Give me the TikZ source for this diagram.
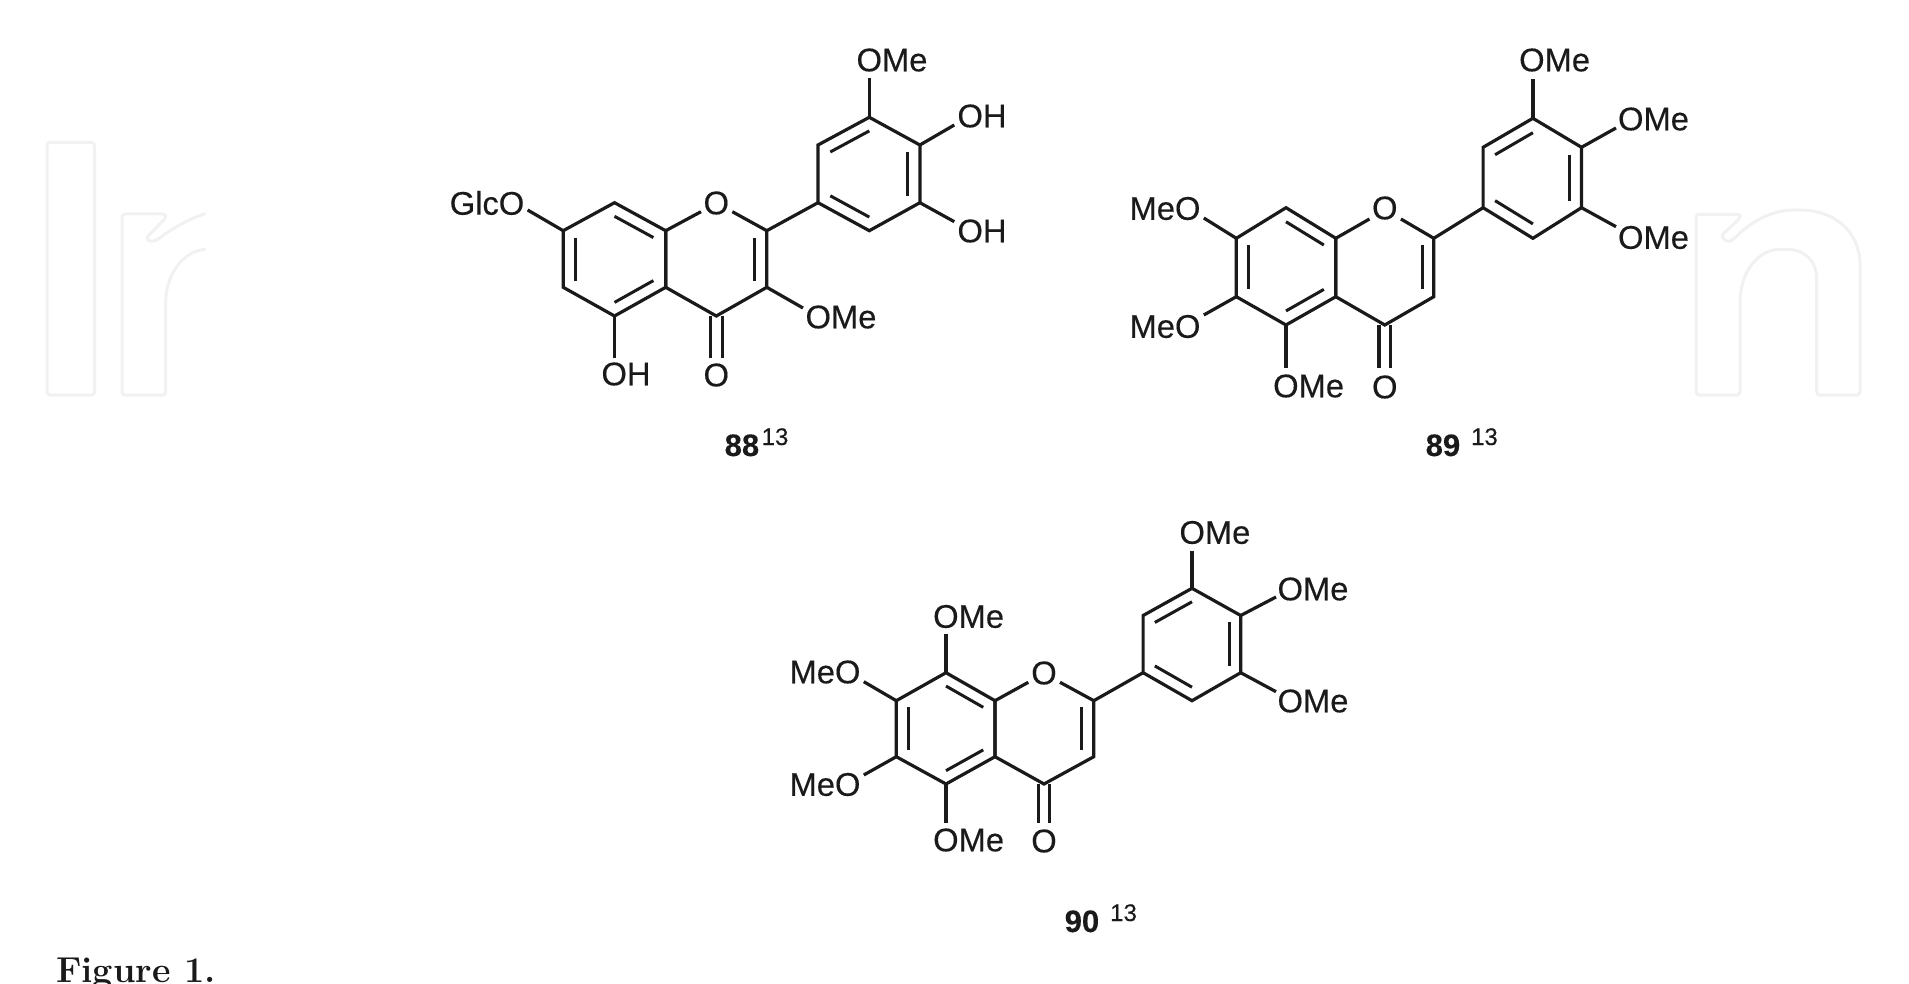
\documentclass[tikz,border=0pt]{standalone}
\usepackage{fontspec}
\newfontfamily\chem{Liberation Sans}[FakeBold=0.35]
\newfontfamily\chembold{Liberation Sans Bold}[FakeBold=0.25]
\newfontfamily\chemsup{Liberation Sans}[FakeBold=0.2]
\usetikzlibrary{calc}
\definecolor{ink}{HTML}{1A1A1A}
\definecolor{wm}{HTML}{F1F1F1}
\tikzset{
  bond/.style={draw=ink,line width=3.2pt,line join=miter,line cap=butt},
  inner/.style={draw=ink,line width=3pt,line cap=butt},
  atom/.style={inner sep=0pt,outer sep=0pt,text=ink,font=\chem\fontsize{32.7}{36}\selectfont},
  cpd/.style={inner sep=0pt,outer sep=0pt,text=ink,anchor=base west,font=\chembold\fontsize{31}{34}\selectfont},
  ghost/.style={draw=wm,line width=3pt,line join=round,rounded corners=3pt}
}
\newcommand{\Frame}[8]{%
  \def\xa{#1}\def\xb{#2}\def\xc{#3}\def\xd{#4}\def\xe{#5}\def\xf{#6}\def\xg{#7}\def\xh{#8}}
\newcommand{\Skel}[6]{%
  \coordinate (c7) at (\xa,#4); \coordinate (c8) at (\xb,#3);
  \coordinate (c8a) at (\xc,#4); \coordinate (c4a) at (\xc,#5);
  \coordinate (c5) at (\xb,#6); \coordinate (c6) at (\xa,#5);
  \coordinate (o1) at (\xd,#3); \coordinate (c2) at (\xe,#4);
  \coordinate (c3) at (\xe,#5); \coordinate (c4) at (\xd,#6);
  \coordinate (b1) at (\xf,#3); \coordinate (b2) at (\xf,#2);
  \coordinate (b3) at (\xg,#1); \coordinate (b4) at (\xh,#2);
  \coordinate (b5) at (\xh,#3); \coordinate (b6) at (\xg,#4);
  \coordinate (ra) at ($(c8)!.5!(c5)$);
  \coordinate (rc) at ($(o1)!.5!(c4)$);
  \coordinate (rb) at ($(b3)!.5!(b6)$);
  \draw[bond] (c7)--(c8)--(c8a)--(c4a)--(c5)--(c6)--cycle;
  \draw[bond] (b1)--(b2)--(b3)--(b4)--(b5)--(b6)--cycle;
  \draw[bond] (c8a)--(c4a)--(c4)--(c3)--(c2)--(b1);
  \draw[inner] ($(c7)!.24!(ra)$)--($(c6)!.24!(ra)$);
  \draw[inner] ($(c8)!.24!(ra)$)--($(c8a)!.24!(ra)$);
  \draw[inner] ($(c5)!.24!(ra)$)--($(c4a)!.24!(ra)$);
  \draw[inner] ($(c2)!.24!(rc)$)--($(c3)!.24!(rc)$);
  \draw[inner] ($(b1)!.24!(rb)$)--($(b6)!.24!(rb)$);
  \draw[inner] ($(b2)!.24!(rb)$)--($(b3)!.24!(rb)$);
  \draw[inner] ($(b4)!.24!(rb)$)--($(b5)!.24!(rb)$);
}
\newcommand{\Sub}[3]{\coordinate (#2) at (#3); \draw[bond] (#1)--(#2);}
\newcommand{\Carbonyl}[1]{%
  \coordinate (oe) at (\xd,#1);
  \draw[bond] ([xshift=-5.8pt]c4)--([xshift=-5.8pt]oe);
  \draw[bond] ([xshift=5.8pt]c4)--([xshift=5.8pt]oe);}
\newcommand{\Sup}{\raisebox{11pt}{\chemsup\fontsize{24}{26}\selectfont 13}}
\begin{document}
\begin{tikzpicture}[x=1pt,y=-1pt]
\useasboundingbox (0,0) rectangle (1909,984);
% faint logo behind the figure
\draw[ghost] (47,142.5) rectangle (94.5,395);
\draw[ghost] (205.7,249.3) .. controls (182,251) and (165.7,276) .. (165.7,305)
   -- (165.7,395) -- (122,395) -- (122,214) -- (165.7,214) -- (165.7,218) -- (146,238) -- (150,242) -- (157,240)
   .. controls (170,230) and (188,219) .. (205.7,213.5);
\draw[ghost] (1696,214.3) -- (1740,214.3) -- (1740,218) -- (1721,236) -- (1727,242) -- (1733,240)
   .. controls (1750,222) and (1772,210) .. (1796.7,210)
   .. controls (1835,210) and (1860,232) .. (1860,268)
   -- (1860,395) -- (1816.7,395) -- (1816.7,283)
   .. controls (1816.7,260) and (1804,249.3) .. (1783.3,249.3)
   .. controls (1758,249.3) and (1740,272) .. (1740,305)
   -- (1740,395) -- (1696,395) -- cycle;

% compound 88
\begin{scope}[name prefix=m88-]
  \Frame{563.2}{614.5}{665.7}{716.3}{766.8}{818}{869.3}{919.9}
  \Skel{117.3}{145}{202.7}{230.7}{287.3}{316}
  \node[atom] (ring) at (716.3,203) {O};
  \Sub{c8a}{eo1}{701,211.7} \Sub{c2}{eo2}{732.3,211.7}
  \Carbonyl{358}
  \node[atom] (oket) at (716.3,375) {O};
  \node[atom] (ome3p) at (892,60) {OMe};  \Sub{b3}{e1}{869.3,78}
  \node[atom] (oh4p) at (982,116) {OH}; \Sub{b4}{e2}{954.3,125}
  \node[atom] (oh5p) at (982,231) {OH}; \Sub{b5}{e3}{954.3,221.7}
  \node[atom] (ome3) at (841,317) {OMe};\Sub{c3}{e4}{803,308}
  \node[atom] (oh5) at (626,374) {OH};  \Sub{c5}{e5}{614.5,358}
  \node[atom] (glc) at (487,203) {GlcO};\Sub{c7}{e6}{527.6,210}
  \node[cpd] (lab) at (724.7,456) {88\kern2.5pt\Sup};
\end{scope}

% compound 89
\begin{scope}[name prefix=m89-]
  \Frame{1236.3}{1286}{1335.8}{1384.8}{1433.8}{1483.1}{1532.9}{1581.5}
  \Skel{118.3}{147.3}{207.7}{238.3}{296.7}{325}
  \node[atom] (ring) at (1384.8,208) {O};
  \Sub{c8a}{eo1}{1369.5,219} \Sub{c2}{eo2}{1400.9,219}
  \Carbonyl{368}
  \node[atom] (oket) at (1384.8,387) {O};
  \node[atom] (ome3p) at (1554.6,60) {OMe}; \Sub{b3}{e1}{1532.9,79}
  \node[atom] (ome4p) at (1653.5,119) {OMe};\Sub{b4}{e2}{1616,128}
  \node[atom] (ome5p) at (1653.5,237.5) {OMe};\Sub{b5}{e3}{1616,226.7}
  \node[atom] (meo7) at (1165,208.5) {MeO}; \Sub{c7}{e4}{1203.8,218}
  \node[atom] (meo6) at (1165,326.5) {MeO}; \Sub{c6}{e5}{1203.8,315}
  \node[atom] (ome5) at (1308.6,386) {OMe}; \Sub{c5}{e6}{1286,368}
  \node[cpd] (lab) at (1425.7,456) {89\kern10.9pt\Sup};
\end{scope}

% compound 90
\begin{scope}[name prefix=m90-]
  \Frame{896.3}{946}{995}{1044}{1093.8}{1143.1}{1192}{1240.7}
  \Skel{588.3}{615.5}{672.7}{700.7}{756.7}{784}
  \node[atom] (ring) at (1044,673) {O};
  \Sub{c8a}{eo1}{1028.3,682.3} \Sub{c2}{eo2}{1060,682.3}
  \Carbonyl{823}
  \node[atom] (oket) at (1044,841) {O};
  \node[atom] (ome3p) at (1214.9,532.5) {OMe}; \Sub{b3}{e1}{1192,550.7}
  \node[atom] (ome4p) at (1313,589) {OMe};  \Sub{b4}{e2}{1276,597}
  \node[atom] (ome5p) at (1313,701) {OMe};  \Sub{b5}{e3}{1276,691.7}
  \node[atom] (ome8) at (968.6,616.5) {OMe};\Sub{c8}{e4}{946,634}
  \node[atom] (meo7) at (825,672) {MeO}; \Sub{c7}{e5}{863.8,681.7}
  \node[atom] (meo6) at (825,784.5) {MeO};   \Sub{c6}{e6}{863.8,775}
  \node[atom] (ome5) at (968.6,840) {OMe}; \Sub{c5}{e7}{946,823}
  \node[cpd] (lab) at (1064.7,932) {90\kern11pt\Sup};
\end{scope}

\node[inner sep=0pt,anchor=base west,text=ink,font=\rmfamily\bfseries\fontsize{36}{38}\selectfont] (cap) at (56,982) {Figure \oldstylenums{1}.};
\end{tikzpicture}
\end{document}
